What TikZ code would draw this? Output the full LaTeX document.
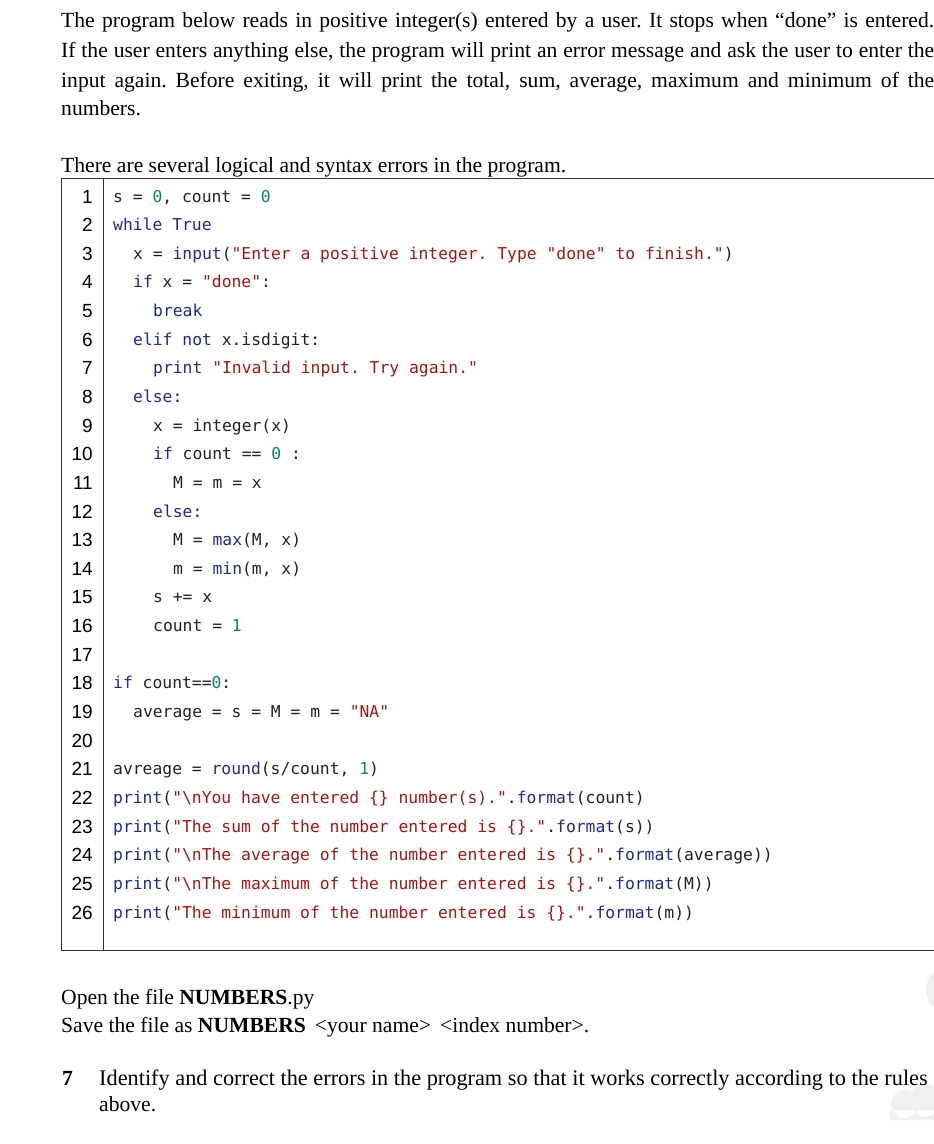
\documentclass[tikz,border=0pt]{standalone}
\usepackage{fontspec}
\setmainfont{Liberation Serif}
\newfontfamily\codef{DejaVu Sans Mono}
\newfontfamily\numf{Liberation Sans}
\definecolor{kwc}{HTML}{1F2A8A}
\definecolor{stc}{HTML}{A31515}
\definecolor{nmc}{HTML}{098658}
\definecolor{txc}{HTML}{222222}
\newcommand{\kw}[1]{\textcolor{kwc}{#1}}
\newcommand{\st}[1]{\textcolor{stc}{#1}}
\newcommand{\nm}[1]{\textcolor{nmc}{#1}}
\newcommand{\bs}{\textbackslash}
\frenchspacing
\tikzset{
 txt/.style={anchor=base west,inner sep=0pt,font=\frenchspacing\fontsize{21.6}{24}\selectfont},
 btxt/.style={anchor=base west,inner sep=0pt,font=\frenchspacing\fontsize{22.3}{24}\selectfont},
 cl/.style={anchor=base west,inner sep=0pt,text=txc,font=\frenchspacing\codef\fontsize{16.35}{20}\selectfont},
 ln/.style={anchor=base east,inner sep=0pt,font=\numf\fontsize{19}{20}\selectfont},
}
\begin{document}
\begin{tikzpicture}[x=1pt,y=-1pt]
\useasboundingbox (0,0) rectangle (934,1144);
% blobs
\fill[gray!12] (950,990) circle (24);
\fill[gray!12] (905,1104) circle (14) (925,1100) circle (16) (890,1110) rectangle (934,1120);
% paragraph
\node[txt] (p1) at (61,27) {\makebox[873pt][s]{The program below reads in positive integer(s) entered by a user. It stops when “done” is entered.}};
\node[txt] (p2) at (61,57) {\makebox[873pt][s]{If the user enters anything else, the program will print an error message and ask the user to enter the}};
\node[txt] (p3) at (61,87) {\makebox[873pt][s]{input again. Before exiting, it will print the total, sum, average, maximum and minimum of the}};
\node[txt] (p4) at (61,115) {numbers.};
\node[txt] (p5) at (61,172) {There are several logical and syntax errors in the program.};
% box
\draw[line width=1pt,black!80] (61,178) -- (934,178);
\draw[line width=1pt,black!80] (61,178) -- (61,950) -- (934,950);
\draw[line width=1pt,black!80] (103,178) -- (103,950);
% line numbers
\foreach \i in {1,...,26} {\node[ln] (n\i) at (93,{203+(\i-1)*28.64}) {\i};}
\def\Y#1{{202+(#1-1)*28.64}}
\node[cl] (c1) at (113,\Y1) {s = \nm{0}, count = \nm{0}};
\node[cl] (c2) at (113,\Y2) {\kw{while} \kw{True}};
\node[cl] (c3) at (133,\Y3) {x = \kw{input}(\st{"Enter a positive integer. Type "done" to finish."})};
\node[cl] (c4) at (133,\Y4) {\kw{if} x = \st{"done"}:};
\node[cl] (c5) at (153,\Y5) {\kw{break}};
\node[cl] (c6) at (133,\Y6) {\kw{elif} \kw{not} x.isdigit:};
\node[cl] (c7) at (153,\Y7) {\kw{print} \st{"Invalid input. Try again."}};
\node[cl] (c8) at (133,\Y8) {\kw{else}:};
\node[cl] (c9) at (153,\Y9) {x = integer(x)};
\node[cl] (c10) at (153,\Y{10}) {\kw{if} count == \nm{0} :};
\node[cl] (c11) at (173,\Y{11}) {M = m = x};
\node[cl] (c12) at (153,\Y{12}) {\kw{else}:};
\node[cl] (c13) at (173,\Y{13}) {M = \kw{max}(M, x)};
\node[cl] (c14) at (173,\Y{14}) {m = \kw{min}(m, x)};
\node[cl] (c15) at (153,\Y{15}) {s += x};
\node[cl] (c16) at (153,\Y{16}) {count = \nm{1}};
\node[cl] (c18) at (113,\Y{18}) {\kw{if} count==\nm{0}:};
\node[cl] (c19) at (133,\Y{19}) {average = s = M = m = \st{"NA"}};
\node[cl] (c21) at (113,\Y{21}) {avreage = \kw{round}(s/count, \nm{1})};
\node[cl] (c22) at (113,\Y{22}) {\kw{print}(\st{"\bs nYou have entered \{\} number(s)."}.\kw{format}(count)};
\node[cl] (c23) at (113,\Y{23}) {\kw{print}(\st{"The sum of the number entered is \{\}."}.\kw{format}(s))};
\node[cl] (c24) at (113,\Y{24}) {\kw{print}(\st{"\bs nThe average of the number entered is \{\}."}.\kw{format}(average))};
\node[cl] (c25) at (113,\Y{25}) {\kw{print}(\st{"\bs nThe maximum of the number entered is \{\}."}.\kw{format}(M))};
\node[cl] (c26) at (113,\Y{26}) {\kw{print}(\st{"The minimum of the number entered is \{\}."}.\kw{format}(m))};
% bottom
\node[txt] (b1) at (61,1004) {Open the file \textbf{NUMBERS}.py};
\node[txt] (b2) at (61,1032) {Save the file as \textbf{NUMBERS} \,<your name> \,<index number>.};
\node[txt] (b3) at (62,1085) {\textbf{7}};
\node[btxt] (b4) at (99,1085) {Identify and correct the errors in the program so that it works correctly according to the rules};
\node[txt] (b5) at (99,1111) {above.};
\end{tikzpicture}
\end{document}
